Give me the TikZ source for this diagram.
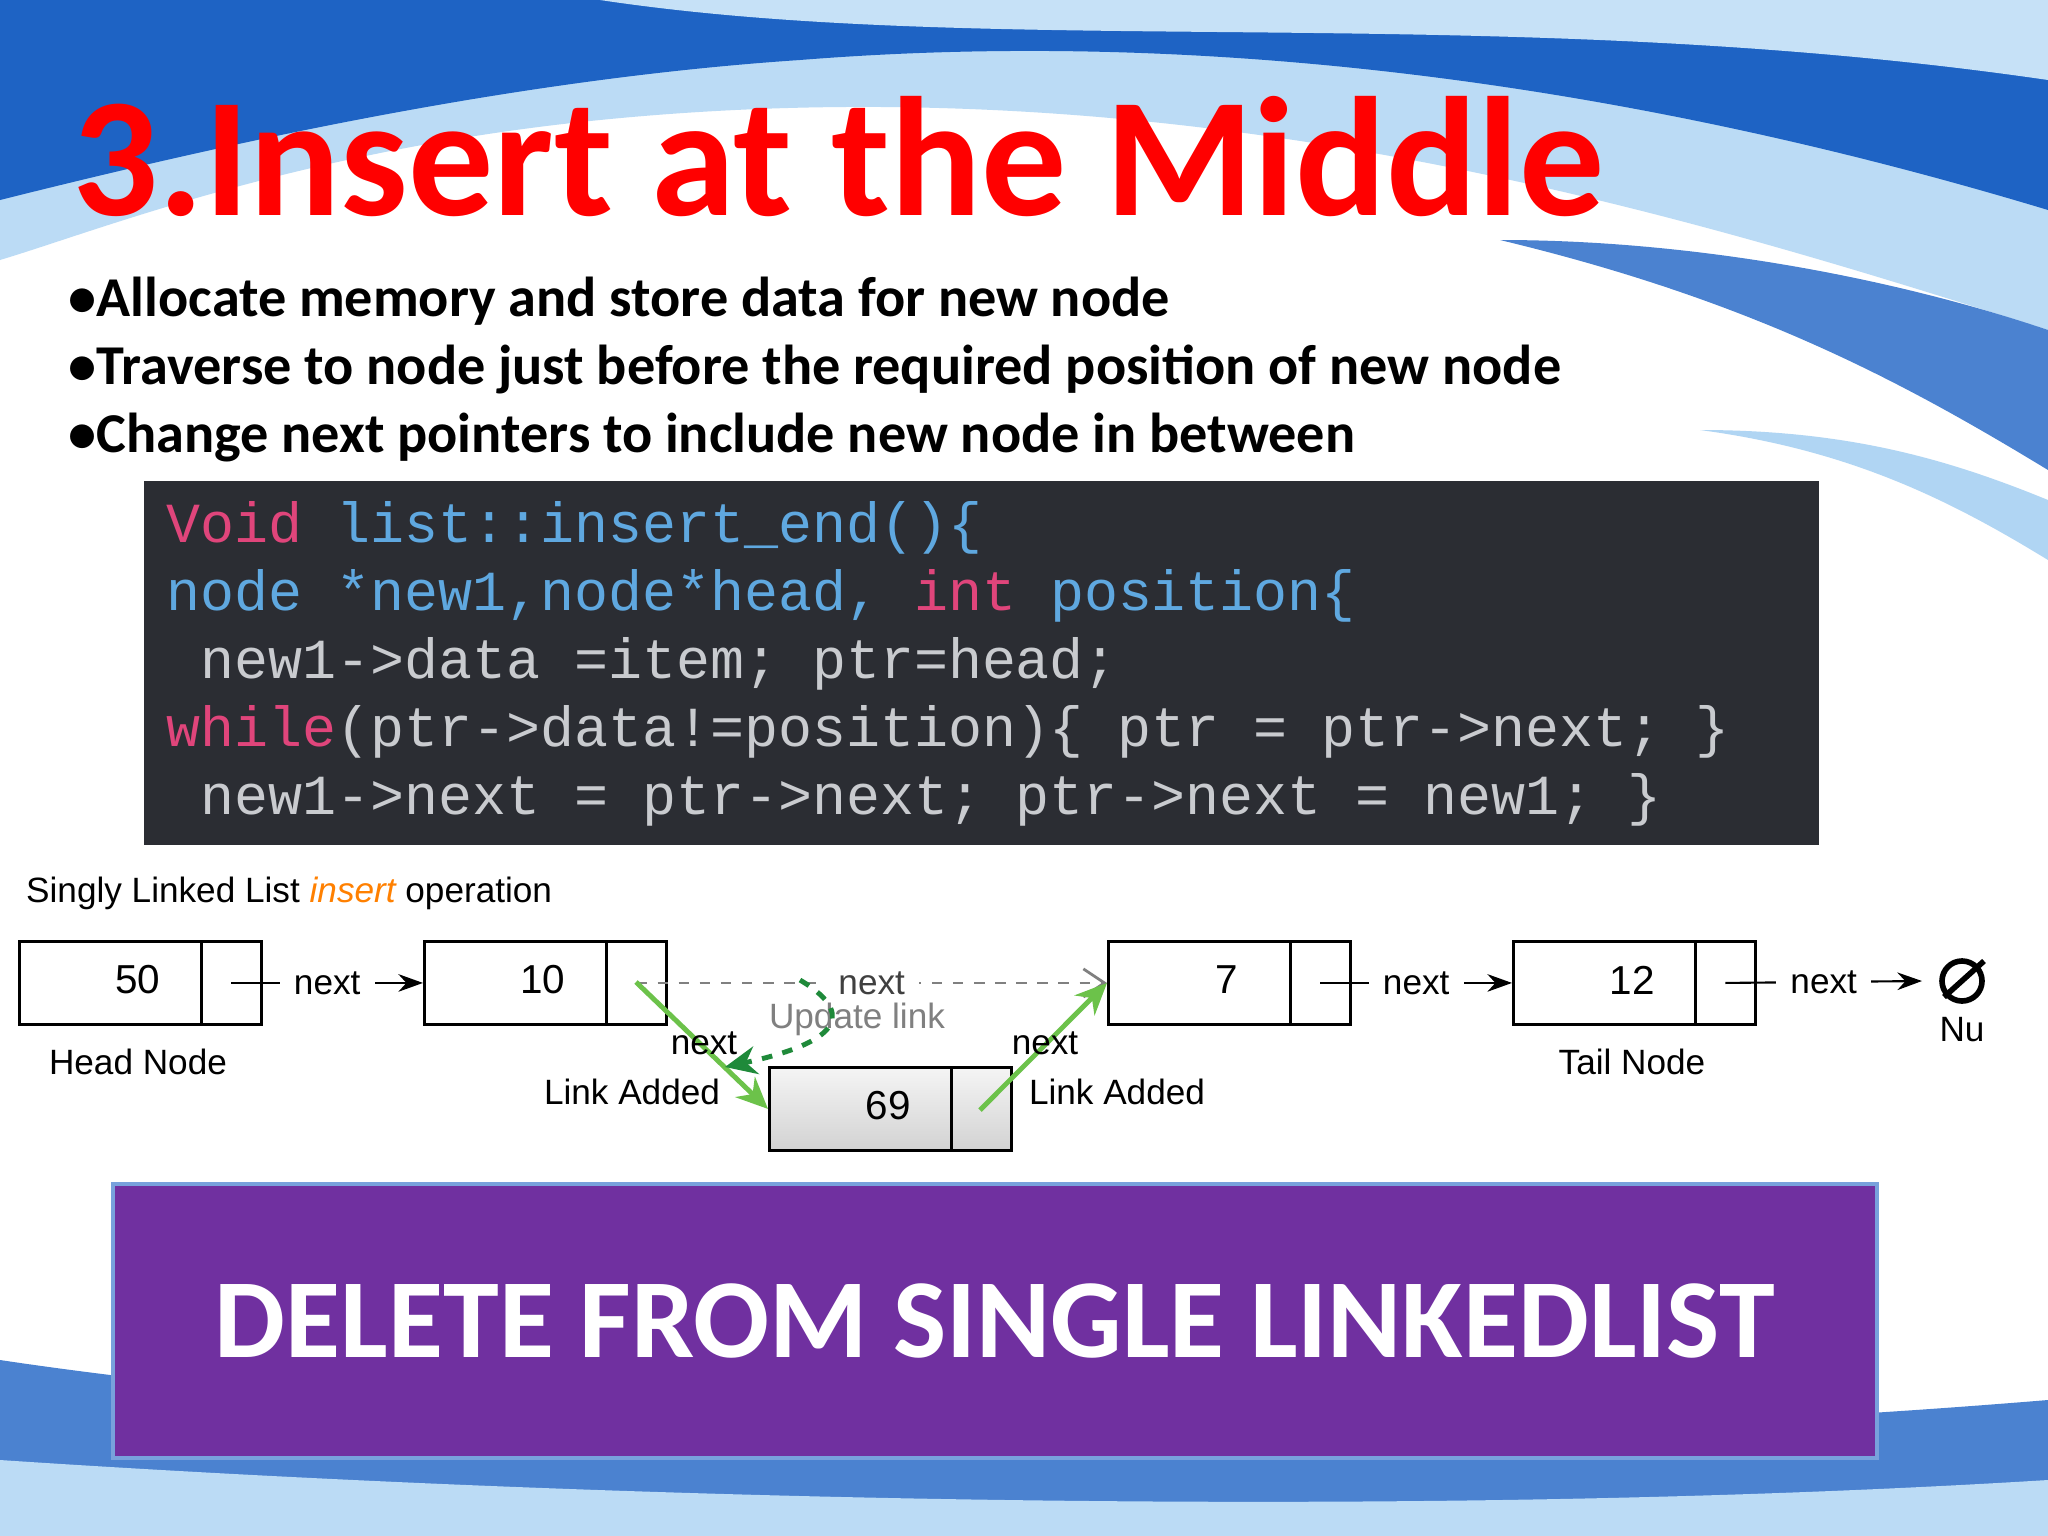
\documentclass[tikz,border=0pt]{standalone}
\usepackage{fontspec}
\setmainfont{Carlito}
\newfontfamily\codef{Liberation Mono}
\newfontfamily\diaf{Liberation Sans}
\usetikzlibrary{arrows.meta,shadings}
\definecolor{codebg}{HTML}{2B2D33}
\definecolor{kw}{HTML}{E0457B}
\definecolor{idf}{HTML}{5FA8E0}
\definecolor{txt}{HTML}{C9CBCF}
\definecolor{purp}{HTML}{7030A0}
\definecolor{swA}{HTML}{1E63C4}
\definecolor{swB}{HTML}{8EC3EE}
\definecolor{grn}{HTML}{6CC24A}
\definecolor{dgrn}{HTML}{1F8A3A}
\tikzset{
 cell/.style={draw=black,line width=0.8pt,minimum height=0.83cm,inner sep=0},
 lbl/.style={font=\diaf\fontsize{10pt}{12pt}\selectfont,inner sep=1pt},
 plbl/.style={lbl,fill=white,inner xsep=4pt},
 ptr/.style={-{Stealth[length=7pt,width=5pt]},line width=0.6pt},
 gar/.style={-{Stealth[length=9pt,width=8pt]},grn,line width=1.4pt},
 bul/.style={anchor=base west,inner sep=0,font=\bfseries\fontsize{16pt}{19pt}\selectfont},
 codeline/.style={anchor=base west,inner sep=0,font=\codef\fontsize{16.1pt}{18pt}\selectfont,text=txt}
}
\begin{document}
\begin{tikzpicture}[x=0.01cm,y=-0.01cm]
\useasboundingbox (0,0) rectangle (2048,1536);
\fill[white] (0,0) rectangle (2048,1536);
% background swooshes
\fill[swB!60] (0,0) -- (2048,0) -- (2048,330) .. controls (1700,220) and (1200,60) .. (600,120) .. controls (300,150) and (100,230) .. (0,260) -- cycle;
\fill[swA] (0,0) -- (2048,0) -- (2048,210) .. controls (1750,120) and (1300,20) .. (800,60) .. controls (500,80) and (200,150) .. (0,200) -- cycle;
\fill[swB!50] (600,0) .. controls (1000,60) and (1500,0) .. (2048,80) -- (2048,0) -- cycle;
\fill[swA!80] (1500,240) .. controls (1750,300) and (1900,380) .. (2048,470) -- (2048,330) .. controls (1900,280) and (1700,240) .. (1500,240) -- cycle;
\fill[swB!70] (1700,430) .. controls (1850,450) and (1950,500) .. (2048,560) -- (2048,500) .. controls (1950,460) and (1850,430) .. (1700,430) -- cycle;
\fill[swA!80] (0,1360) .. controls (400,1420) and (1200,1470) .. (2048,1400) -- (2048,1536) -- (0,1536) -- cycle;
\fill[swB!60] (0,1460) .. controls (600,1500) and (1400,1520) .. (2048,1480) -- (2048,1536) -- (0,1536) -- cycle;
% title
\node[anchor=base west,inner sep=0,text=red,font=\bfseries\fontsize{48.3pt}{55pt}\selectfont] (title) at (72,215) {3.Insert at the Middle};
\node[bul] (b1) at (68,316) {•Allocate memory and store data for new node};
\node[bul] (b2) at (68,384) {•Traverse to node just before the required position of new node};
\node[bul] (b3) at (68,452) {•Change next pointers to include new node in between};
% code
\fill[codebg] (144,481) rectangle (1819,845);
\node[codeline] (c1) at (166,542) {\textcolor{kw}{Void} \textcolor{idf}{list::insert\_end()\{}};
\node[codeline] (c2) at (166,610) {\textcolor{idf}{node *new1,node*head,} \textcolor{kw}{int} \textcolor{idf}{position\{}};
\node[codeline] (c3) at (166,678) {\ new1->data =item; ptr=head;};
\node[codeline] (c4) at (166,746) {\textcolor{kw}{while}(ptr->data!=position)\{ ptr = ptr->next; \}};
\node[codeline] (c5) at (166,814) {\ new1->next = ptr->next; ptr->next = new1; \}};
% diagram panel
\fill[white] (0,865) rectangle (1985,1165);
\node[lbl,anchor=base west] (cap) at (22,902) {Singly Linked List \textcolor{orange}{\itshape insert} operation};
% nodes
\foreach \n/\x/\v in {a/18/50,b/423/10,c/1107/7,d/1512/12}{
 \node[cell,minimum width=1.82cm,anchor=north west] (\n) at (\x,940) {};
 \node[cell,minimum width=0.6cm,anchor=north west] (\n p) at (\x+182,940) {};
 \node[lbl,font=\diaf\fontsize{11.5pt}{13pt}\selectfont] (\n v) at (\x+120,980) {\v};
}
\node[cell,minimum width=1.82cm,anchor=north west,top color=gray!8,bottom color=gray!35] (e) at (768,1066) {};
\node[cell,minimum width=0.6cm,anchor=north west,top color=gray!8,bottom color=gray!35] (ep) at (950,1066) {};
\node[lbl,font=\diaf\fontsize{11.5pt}{13pt}\selectfont] (ev) at (888,1106) {69};
% pointers
\draw[ptr] (ap.center) -- node[plbl]{next} (b.west);
\draw[ptr] (cp.center) -- node[plbl]{next} (d.west);
\coordinate (nul) at (1962,981);
\coordinate (nulw) at (1922,981);
\draw[ptr] (dp.center) -- node[plbl]{next} (nulw);
\draw[line width=1.6pt] (nul) circle[radius=0.2cm];
\draw[line width=1.6pt] (1944,997) -- (1984,961);
\node[lbl] (nu) at (1962,1030) {Nu};
\draw[dashed,gray,line width=0.8pt,-{Straight Barb[length=6pt,width=8pt]}] (bp.center) -- node[plbl,text=gray!50!black]{next} (c.west);
\node[lbl,text=gray] (upd) at (857,1019) {Update link};
\coordinate (g1) at (636,982);
\coordinate (g2) at (980,1110);
\draw[gar] (g1) -- (e.west);
\draw[gar] (g2) -- (c.west);
\draw[dashed,dgrn,line width=1.4pt,-{Stealth[length=9pt,width=8pt]}] (800,980) .. controls (850,1010) and (850,1040) .. (725,1067);
\node[lbl] (n1) at (704,1043) {next};
\node[lbl] (n2) at (1045,1043) {next};
\node[lbl] (la1) at (632,1092) {Link Added};
\node[lbl] (la2) at (1117,1092) {Link Added};
\node[lbl] (hn) at (138,1062) {Head Node};
\node[lbl] (tn) at (1632,1062) {Tail Node};
% purple box
\node[fill=purp,draw=swA!60,line width=1pt,minimum width=17.63cm,minimum height=2.74cm,anchor=north west,inner sep=0] (pb) at (111,1182) {};
\node[text=white,font=\bfseries\fontsize{32pt}{36pt}\selectfont] (pt) at (pb.center) {DELETE FROM SINGLE LINKEDLIST};
\end{tikzpicture}
\end{document}
